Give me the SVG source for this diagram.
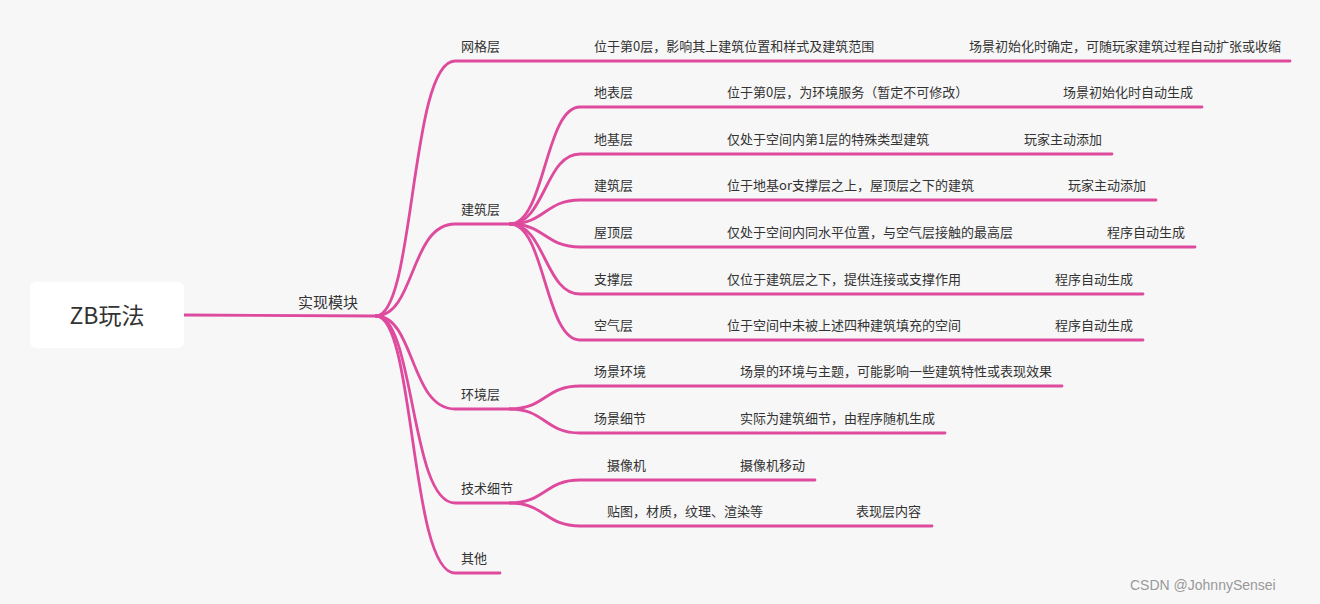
<svg xmlns="http://www.w3.org/2000/svg" width="1320" height="604" viewBox="0 0 1320 604">
<style>
.l{fill:none;stroke:#de4a9d;stroke-width:2.8;stroke-linecap:round}
.t{font-family:"Noto Sans CJK SC","Liberation Sans",sans-serif;font-size:13px;fill:#333}
</style>
<rect width="1320" height="604" fill="#f7f7f7"/>
<g id="connectors">
<path class="l" d="M184,315 L376,316"/>
<path class="l" d="M376,316 C415,316 410,61 455,61 L1290,61"/>
<path class="l" d="M376,316 C415,316 410,224 455,224 L510,224"/>
<path class="l" d="M376,316 C415,316 410,409 455,409 L510,409"/>
<path class="l" d="M376,316 C415,316 410,503 455,503 L510,503"/>
<path class="l" d="M376,316 C415,316 410,573 455,573 L500,573"/>
<path class="l" d="M510,224 C545,224 545,107 580,107 L1202,107"/>
<path class="l" d="M510,224 C545,224 545,154 580,154 L1112,154"/>
<path class="l" d="M510,224 C545,224 545,200 580,200 L1156,200"/>
<path class="l" d="M510,224 C545,224 545,247 580,247 L1195,247"/>
<path class="l" d="M510,224 C545,224 545,294 580,294 L1143,294"/>
<path class="l" d="M510,224 C545,224 545,340 580,340 L1143,340"/>
<path class="l" d="M510,409 C545,409 545,386 580,386 L1062,386"/>
<path class="l" d="M510,409 C545,409 545,433 580,433 L945,433"/>
<path class="l" d="M510,503 C545,503 545,480 580,480 L815,480"/>
<path class="l" d="M510,503 C545,503 545,526 580,526 L932,526"/>
</g>
<g id="root"><rect x="30" y="282" width="154" height="66" rx="6" fill="#fff"/>
<text x="107" y="324" text-anchor="middle" font-family="'Noto Sans CJK SC','Liberation Sans',sans-serif" font-size="23" fill="#333">ZB玩法</text></g>
<g id="impl"><text class="t" x="298" y="308" style="font-size:15px">实现模块</text></g>
<g id="grid"><text class="t" x="461" y="51">网格层</text><text class="t" x="594" y="51">位于第0层，影响其上建筑位置和样式及建筑范围</text><text class="t" x="969" y="51">场景初始化时确定，可随玩家建筑过程自动扩张或收缩</text></g>
<g id="build"><text class="t" x="461" y="214">建筑层</text></g>
<g id="b1"><text class="t" x="594" y="97">地表层</text><text class="t" x="727" y="97">位于第0层，为环境服务（暂定不可修改）</text><text class="t" x="1063" y="97">场景初始化时自动生成</text></g>
<g id="b2"><text class="t" x="594" y="144">地基层</text><text class="t" x="727" y="144">仅处于空间内第1层的特殊类型建筑</text><text class="t" x="1024" y="144">玩家主动添加</text></g>
<g id="b3"><text class="t" x="594" y="190">建筑层</text><text class="t" x="727" y="190">位于地基or支撑层之上，屋顶层之下的建筑</text><text class="t" x="1068" y="190">玩家主动添加</text></g>
<g id="b4"><text class="t" x="594" y="237">屋顶层</text><text class="t" x="727" y="237">仅处于空间内同水平位置，与空气层接触的最高层</text><text class="t" x="1107" y="237">程序自动生成</text></g>
<g id="b5"><text class="t" x="594" y="284">支撑层</text><text class="t" x="727" y="284">仅位于建筑层之下，提供连接或支撑作用</text><text class="t" x="1055" y="284">程序自动生成</text></g>
<g id="b6"><text class="t" x="594" y="330">空气层</text><text class="t" x="727" y="330">位于空间中未被上述四种建筑填充的空间</text><text class="t" x="1055" y="330">程序自动生成</text></g>
<g id="env"><text class="t" x="461" y="399">环境层</text></g>
<g id="e1"><text class="t" x="594" y="376">场景环境</text><text class="t" x="740" y="376">场景的环境与主题，可能影响一些建筑特性或表现效果</text></g>
<g id="e2"><text class="t" x="594" y="423">场景细节</text><text class="t" x="740" y="423">实际为建筑细节，由程序随机生成</text></g>
<g id="tech"><text class="t" x="461" y="493">技术细节</text></g>
<g id="t1"><text class="t" x="607" y="470">摄像机</text><text class="t" x="740" y="470">摄像机移动</text></g>
<g id="t2"><text class="t" x="607" y="516">贴图，材质，纹理、渲染等</text><text class="t" x="856" y="516">表现层内容</text></g>
<g id="other"><text class="t" x="461" y="563">其他</text></g>
<text x="1130" y="590" font-family="'Liberation Sans',sans-serif" font-size="14" fill="#999">CSDN @JohnnySensei</text>
</svg>
